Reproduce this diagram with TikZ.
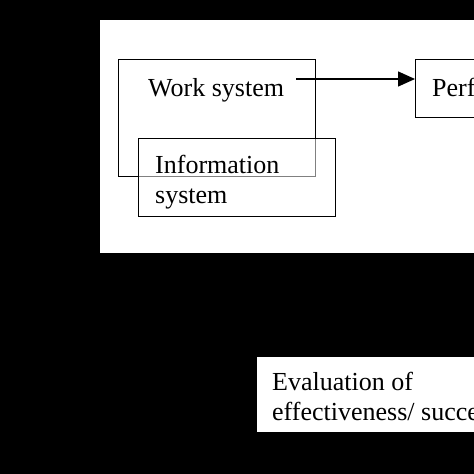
\documentclass[tikz,border=0pt]{standalone}
\usepackage{fontspec}
\setmainfont{Liberation Serif}
\usetikzlibrary{arrows.meta}
\begin{document}
\begin{tikzpicture}[x=1pt,y=-1pt,
  boxline/.style={draw=black,line width=1.4pt},
  lbl/.style={inner sep=0pt,anchor=base west,font=\fontsize{26}{30}\selectfont},
  flow/.style={line width=1.4pt,-{Triangle[length=17pt,width=15pt]}}]
\useasboundingbox (0,0) rectangle (474,474);
\clip (0,0) rectangle (474,474);
\fill[black] (0,0) rectangle (474,474);
\fill[white] (100,20) rectangle (474,253);
\fill[white] (257,357) rectangle (474,432);
% work system box
\node[boxline,minimum width=197pt,minimum height=117pt,anchor=north west,inner sep=0pt] (ws) at (118,59) {};
% information system box (semi-transparent)
\node[boxline,fill=white,fill opacity=0.5,minimum width=197pt,minimum height=78pt,anchor=north west,inner sep=0pt] (is) at (138,138) {};
% performance box
\node[boxline,minimum width=120pt,minimum height=58pt,anchor=north west,inner sep=0pt] (pf) at (415,59) {};
% texts
\node[lbl] (wst) at (148,96) {Work system};
\node[lbl] (ist1) at (155,173) {Information};
\node[lbl] (ist2) at (155,203) {system};
\node[lbl] (pft) at (432,96) {Performance};
\node[lbl] (ev1) at (272,390) {Evaluation of};
\node[lbl] (ev2) at (272,420) {effectiveness/ success};
% arrow
\coordinate (a1) at (296,79);
\draw[flow] (a1) -- (a1 -| pf.west);
\end{tikzpicture}
\end{document}
